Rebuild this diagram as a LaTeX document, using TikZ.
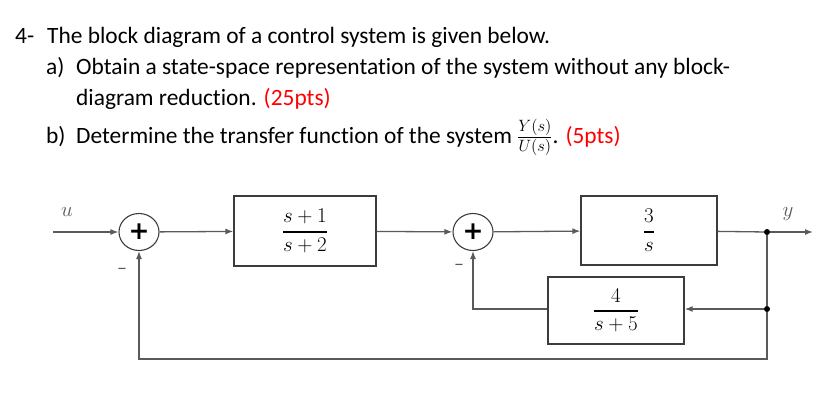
\RequirePackage{fix-cm}
\documentclass[tikz,border=0pt]{standalone}
\usepackage{amsmath,amsbsy}
\usepackage[no-math]{fontspec}
\setmainfont{Carlito}[Ligatures=NoCommon]
\newfontfamily\plusfont{DejaVu Sans}
\usetikzlibrary{arrows.meta,shapes.geometric}
\definecolor{linegray}{HTML}{5A5A5A}
\definecolor{boxgray}{HTML}{3C3C3C}
\definecolor{ptsred}{HTML}{FF0000}
\newcommand{\tfr}[2]{\genfrac{}{}{1.6pt}{0}{#1}{#2}}
\tikzset{
  txt/.style={anchor=base west,inner sep=0pt,font=\fontsize{23.4}{27}\selectfont},
  blockbox/.style={draw=boxgray,line width=1.3pt,inner sep=0pt,font=\fontsize{21}{24}\selectfont},
  sumnode/.style={ellipse,draw=boxgray,line width=1.1pt,minimum width=40pt,minimum height=37pt,inner sep=0pt,font=\plusfont\bfseries\fontsize{25}{25}\selectfont},
  conn/.style={draw=linegray,line width=1.3pt},
  arr/.style={conn,-{Latex[length=8pt,width=6pt]}},
  jdot/.style={circle,fill=black,inner sep=0pt,minimum size=6pt},
  sign/.style={text=linegray,inner sep=0pt,font=\fontsize{20}{20}\selectfont},
  varlab/.style={text=linegray,inner sep=0pt,font=\fontsize{21}{21}\selectfont}
}
\begin{document}
\begin{tikzpicture}[x=1pt,y=-1pt]
\useasboundingbox (0,0) rectangle (831,402);
% question text
\node[txt] (n4) at (15,43) {4-};
\node[txt] (l1) at (47,43) {The block diagram of a control system is given below.};
\node[txt] (la) at (46,74) {a)};
\node[txt] (l2) at (76,74) {Obtain a state-space representation of the system without any block-};
\node[txt] (l3) at (76,105) {diagram reduction. \textcolor{ptsred}{(25pts)}};
\node[txt] (lb) at (46,143) {b)};
\node[txt] (l4) at (76,143) {Determine the transfer function of the system $\genfrac{}{}{1.3pt}{1}{Y(s)}{U(s)}$. \textcolor{ptsred}{(5pts)}};
% diagram
\node[sumnode] (s1) at (139,232) {+};
\node[sumnode] (s2) at (473,232) {+};
\node[blockbox,minimum width=142pt,minimum height=70pt] (g1) at (305,231) {$\tfr{s+1}{s+2}$};
\node[blockbox,minimum width=136pt,minimum height=69pt] (g2) at (649,230.5) {$\tfr{3}{s}$};
\node[blockbox,minimum width=136pt,minimum height=67pt] (h) at (616,310.5) {$\tfr{4}{s+5}$};
\coordinate (uin) at (53,232);
\node[jdot] (j1) at (767,232) {};
\node[jdot] (j2) at (767,309) {};
\coordinate (yout) at (813,232);
\coordinate (bl) at (139,359);
\coordinate (br) at (767,359);
\coordinate (hl) at (473,309);
\node[varlab] (ul) at (67,212) {$u$};
\node[varlab] (yl) at (788,214) {$y$};
\node[sign] (m1) at (122,271) {\textendash};
\node[sign] (m2) at (459,267) {\textendash};
% connectors
\draw[arr] (uin) -- (s1);
\draw[arr] (s1) -- (g1);
\draw[arr] (g1) -- (s2);
\draw[arr] (s2) -- (g2);
\draw[conn] (g2) -- (j1);
\draw[arr] (j1) -- (yout);
\draw[conn] (j1) -- (j2);
\draw[arr] (j2) -- (h.east |- j2);
\draw[arr] (h.west |- hl) -- (hl) -- (s2);
\draw[arr] (j2) -- (br) -- (bl) -- (s1);
\end{tikzpicture}
\end{document}
